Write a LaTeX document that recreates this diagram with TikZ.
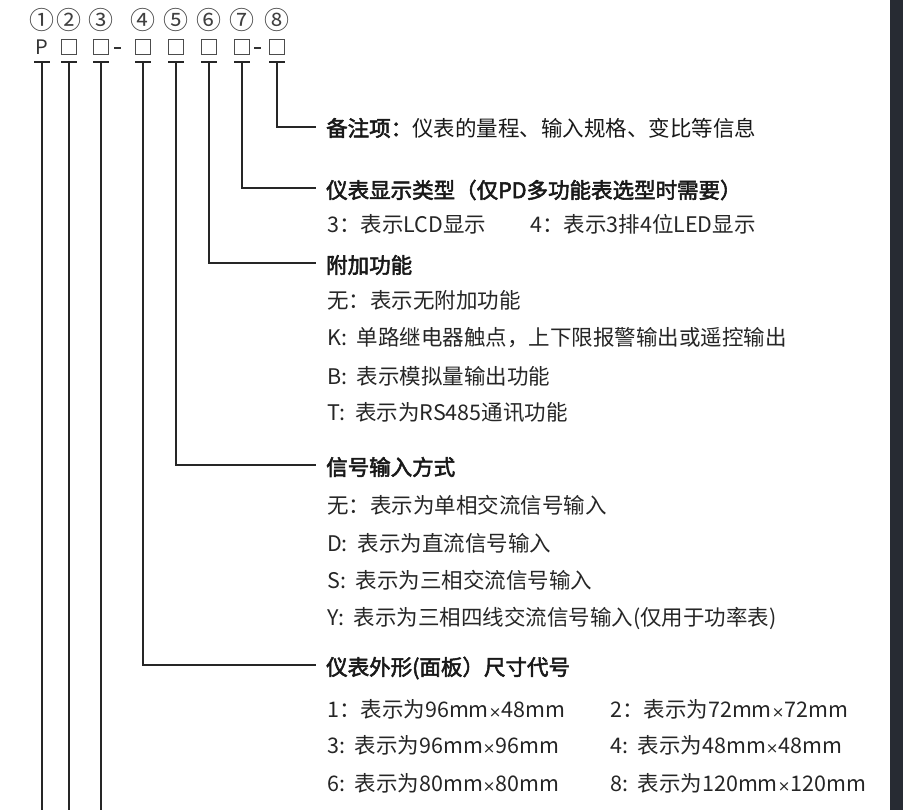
\documentclass[tikz,border=0pt]{standalone}
\usepackage{fontspec}
\newfontfamily\cjk{Noto Sans CJK SC}
\newfontfamily\cjkb[FakeBold=2.5]{Noto Sans CJK SC}
\newfontfamily\djvfont{DejaVu Sans}
\newcommand\mytimes{{\djvfont\fontsize{15}{15}\selectfont ×}}
\begin{document}
\begin{tikzpicture}[x=1pt,y=-1pt,
  txt/.style={anchor=west,inner sep=0pt,font=\cjk\fontsize{21.5}{22}\selectfont,text=black!85},
  hd/.style={anchor=west,inner sep=0pt,font=\cjkb\fontsize{21.5}{22}\selectfont,text=black!90},
  num/.style={inner sep=0pt,font=\cjk\fontsize{25}{25}\selectfont,text=black!75},
  bx/.style={draw=black!70,line width=1pt,minimum size=15pt,inner sep=0pt},
  ln/.style={draw=black!85,line width=1.5pt},
  tb/.style={draw=black!85,line width=2pt}]
\useasboundingbox (0,0) rectangle (903,810);
\fill[white] (0,0) rectangle (903,810);
\fill[fill={rgb,255:red,39;green,43;blue,51}] (890,0) rectangle (903,810);
\begin{scope}
\clip (0,0) rectangle (890,810);
\foreach \x/\n [count=\i] in {42/①,69/②,101/③,143/④,176/⑤,209/⑥,242/⑦,277/⑧}
  \node[num] (c\i) at (\x,20) {\n};
\node[inner sep=0pt,font=\cjk\fontsize{20}{20}\selectfont,text=black!80] (b1) at (42,47) {P};
\foreach \x [count=\i from 2] in {69,101,143,176,209,242,277}
  \node[bx] (b\i) at (\x,47) {};
\draw[line width=1.5pt,black!80] (114,48) -- (121,48);
\draw[line width=1.5pt,black!80] (254,48) -- (261,48);
\foreach \x [count=\i] in {42,69,101,143,176,209,242,277} {
  \coordinate (t\i) at (\x,62);
  \draw[tb] (\x-8,62) -- (\x+8,62);
}
\coordinate (e8) at (277,127); \coordinate (f8) at (316,127);
\coordinate (e7) at (242,188); \coordinate (f7) at (316,188);
\coordinate (e6) at (209,263); \coordinate (f6) at (316,263);
\coordinate (e5) at (176,465); \coordinate (f5) at (316,465);
\coordinate (e4) at (143,665); \coordinate (f4) at (316,665);
\foreach \i in {4,...,8} \draw[ln] (t\i) -- (e\i) -- (f\i);
\foreach \i in {1,2,3} \draw[ln] (t\i) -- (t\i |- 0,810);
\node[hd] (h8) at (326,128) {备注项：\cjk 仪表的量程、输入规格、变比等信息};
\node[hd] (h7) at (326,190) {仪表显示类型（仅PD多功能表选型时需要）};
\node[txt] at (327,224) {3：表示LCD显示};
\node[txt] at (530,224) {4：表示3排4位LED显示};
\node[hd] (h6) at (326,265) {附加功能};
\node[txt] at (327,300) {无：表示无附加功能};
\node[txt] at (327,338) {K:\ \ 单路继电器触点，上下限报警输出或遥控输出};
\node[txt] at (327,376) {B:\ \ 表示模拟量输出功能};
\node[txt] at (327,412) {T:\ \ 表示为RS485通讯功能};
\node[hd] (h5) at (326,467) {信号输入方式};
\node[txt] at (327,505) {无：表示为单相交流信号输入};
\node[txt] at (327,543) {D:\ \ 表示为直流信号输入};
\node[txt] at (327,580) {S:\ \ 表示为三相交流信号输入};
\node[txt] at (327,618) {Y:\ \ 表示为三相四线交流信号输入(仅用于功率表)};
\node[hd] (h4) at (326,668) {仪表外形(面板）尺寸代号};
\node[txt] at (327,709) {1：表示为96mm\mytimes 48mm};
\node[txt] at (610,709) {2：表示为72mm\mytimes 72mm};
\node[txt] at (327,745) {3:\ \ 表示为96mm\mytimes 96mm};
\node[txt] at (610,745) {4:\ \ 表示为48mm\mytimes 48mm};
\node[txt] at (327,783) {6:\ \ 表示为80mm\mytimes 80mm};
\node[txt] at (610,783) {8:\ \ 表示为120mm\mytimes 120mm};
\end{scope}
\end{tikzpicture}
\end{document}
